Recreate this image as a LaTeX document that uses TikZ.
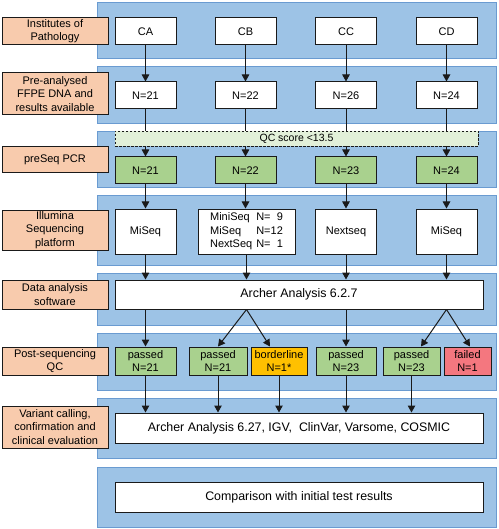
\documentclass[tikz,border=0pt]{standalone}
\usepackage{fontspec}
\setmainfont{Liberation Sans}
\usetikzlibrary{arrows.meta}
\definecolor{bandfill}{HTML}{9DC3E6}
\definecolor{banddraw}{HTML}{6A9BD1}
\definecolor{labfill}{HTML}{F8CBAD}
\definecolor{grn}{HTML}{A9D18E}
\definecolor{qcfill}{HTML}{E2F0D9}
\definecolor{amber}{HTML}{FFC000}
\definecolor{failred}{HTML}{F4777F}
\definecolor{edge}{HTML}{1A1A1A}
\begin{document}
\begin{tikzpicture}[x=1pt,y=-1pt,
 band/.style={fill=bandfill,draw=banddraw,line width=0.6pt},
 lab/.style={draw=edge,fill=labfill,line width=1pt,align=center,inner sep=0pt,minimum width=106pt,font=\fontsize{11}{13.3}\selectfont},
 box/.style={draw=edge,fill=white,line width=1pt,align=center,inner sep=0pt,font=\fontsize{11}{13.3}\selectfont},
 colbox/.style={box,minimum width=61pt},
 gbox/.style={colbox,fill=grn},
 wide/.style={box,minimum width=368pt,font=\fontsize{12.4}{15}\selectfont},
 arr/.style={-{Triangle[length=7pt,width=7.5pt]},line width=1pt,draw=edge}
]
\useasboundingbox (0,0) rectangle (498,529);
% bands
\filldraw[band] (97,2) rectangle (496,58);
\filldraw[band] (97,66) rectangle (496,123);
\filldraw[band] (97,131) rectangle (496,187);
\filldraw[band] (97,195) rectangle (496,265);
\filldraw[band] (97,273) rectangle (496,325);
\filldraw[band] (97,333) rectangle (496,390);
\filldraw[band] (97,398) rectangle (496,458);
\filldraw[band] (97,467) rectangle (496,527);
% labels
\node[lab,minimum height=27pt] (l1) at (55,31.5) {Institutes of\\Pathology};
\node[lab,minimum height=42pt] (l2) at (55,94) {Pre-analysed\\FFPE DNA and\\results available};
\node[lab,minimum height=26pt] (l3) at (55,160) {preSeq PCR};
\node[lab,minimum height=40pt] (l4) at (55,230) {Illumina\\Sequencing\\platform};
\node[lab,minimum height=29pt] (l5) at (55,294.5) {Data analysis\\software};
\node[lab,minimum height=28pt] (l6) at (55,361) {Post-sequencing\\QC};
\node[lab,minimum height=42pt] (l7) at (55,427) {Variant calling,\\confirmation and\\clinical evaluation};
% row 1
\node[colbox,minimum height=27pt] (a1) at (145.5,31.5) {CA};
\node[colbox,minimum height=27pt] (b1) at (245.5,31.5) {CB};
\node[colbox,minimum height=27pt] (c1) at (346,31.5) {CC};
\node[colbox,minimum height=27pt] (d1) at (446.5,31.5) {CD};
% row 2
\node[colbox,minimum height=27pt] (a2) at (145.5,95.5) {N=21};
\node[colbox,minimum height=27pt] (b2) at (245.5,95.5) {N=22};
\node[colbox,minimum height=27pt] (c2) at (346,95.5) {N=26};
\node[colbox,minimum height=27pt] (d2) at (446.5,95.5) {N=24};
% row 3
\node[gbox,minimum height=27pt] (a3) at (145.5,170.5) {N=21};
\node[gbox,minimum height=27pt] (b3) at (245.5,170.5) {N=22};
\node[gbox,minimum height=27pt] (c3) at (346,170.5) {N=23};
\node[gbox,minimum height=27pt] (d3) at (446.5,170.5) {N=24};
% row 4
\node[colbox,minimum height=45pt] (a4) at (145.5,231.5) {MiSeq};
\node[box,minimum width=97pt,minimum height=45pt] (b4) at (246.5,231.5)
  {\begin{tabular}{@{}l@{\hspace{4pt}}l@{}r@{}}MiniSeq & N= & 9\\ MiSeq & N= & 12\\ NextSeq & N= & 1\end{tabular}};
\node[colbox,minimum height=45pt] (c4) at (346,231.5) {Nextseq};
\node[colbox,minimum height=45pt] (d4) at (446.5,231.5) {MiSeq};
% row 5
\node[wide,minimum height=29pt] (r5) at (299,294.5) {Archer Analysis 6.2.7};
% row 6
\node[gbox,minimum height=28pt] (a6) at (145.5,361) {passed\\N=21};
\node[box,fill=grn,minimum width=58pt,minimum height=28pt] (b6) at (218,361) {passed\\N=21};
\node[box,fill=amber,minimum width=56pt,minimum height=28pt] (bl6) at (279,361) {borderline\\N=1*};
\node[box,fill=grn,minimum width=60pt,minimum height=28pt] (c6) at (346,361) {passed\\N=23};
\node[box,fill=grn,minimum width=57pt,minimum height=28pt] (d6) at (411.5,361) {passed\\N=23};
\node[box,fill=failred,minimum width=47pt,minimum height=28pt] (f6) at (467.5,361) {failed\\N=1};
% row 7, 8
\node[wide,minimum height=30pt] (r7) at (299,428) {Archer Analysis 6.27, IGV,\ \ ClinVar, Varsome, COSMIC};
\node[wide,minimum height=30pt] (r8) at (299,497) {Comparison with initial test results};
% arrows
\foreach \p in {a,b,c,d}{
  \draw[arr] (\p1) -- (\p2);
  \draw[arr] (\p2) -- (\p3);
  \draw[arr] (\p3) -- (\p3 |- \p4.north);
  \draw[arr] (\p4) -- (\p4 |- r5.north);
}
\draw[arr] (r5.south -| a6) -- (a6);
\draw[arr] (r5.south -| b4) -- (b6.north);
\draw[arr] (r5.south -| b4) -- ([xshift=-9pt]bl6.north);
\draw[arr] (r5.south -| c6) -- (c6);
\draw[arr] (r5.south -| d4) -- ([xshift=9.5pt]d6.north);
\draw[arr] (r5.south -| d4) -- ([xshift=2.5pt]f6.north);
\foreach \q in {a6,b6,bl6,c6,d6}{
  \draw[arr] (\q) -- (\q |- r7.north);
}
% QC box on top
\node[draw=edge,dash pattern=on 2.5pt off 1.5pt,fill=qcfill,line width=0.8pt,minimum width=363pt,minimum height=15pt,inner sep=0pt,font=\fontsize{10.5}{12}\selectfont] (qc) at (296.5,138.5) {QC score <13.5};
\end{tikzpicture}
\end{document}
